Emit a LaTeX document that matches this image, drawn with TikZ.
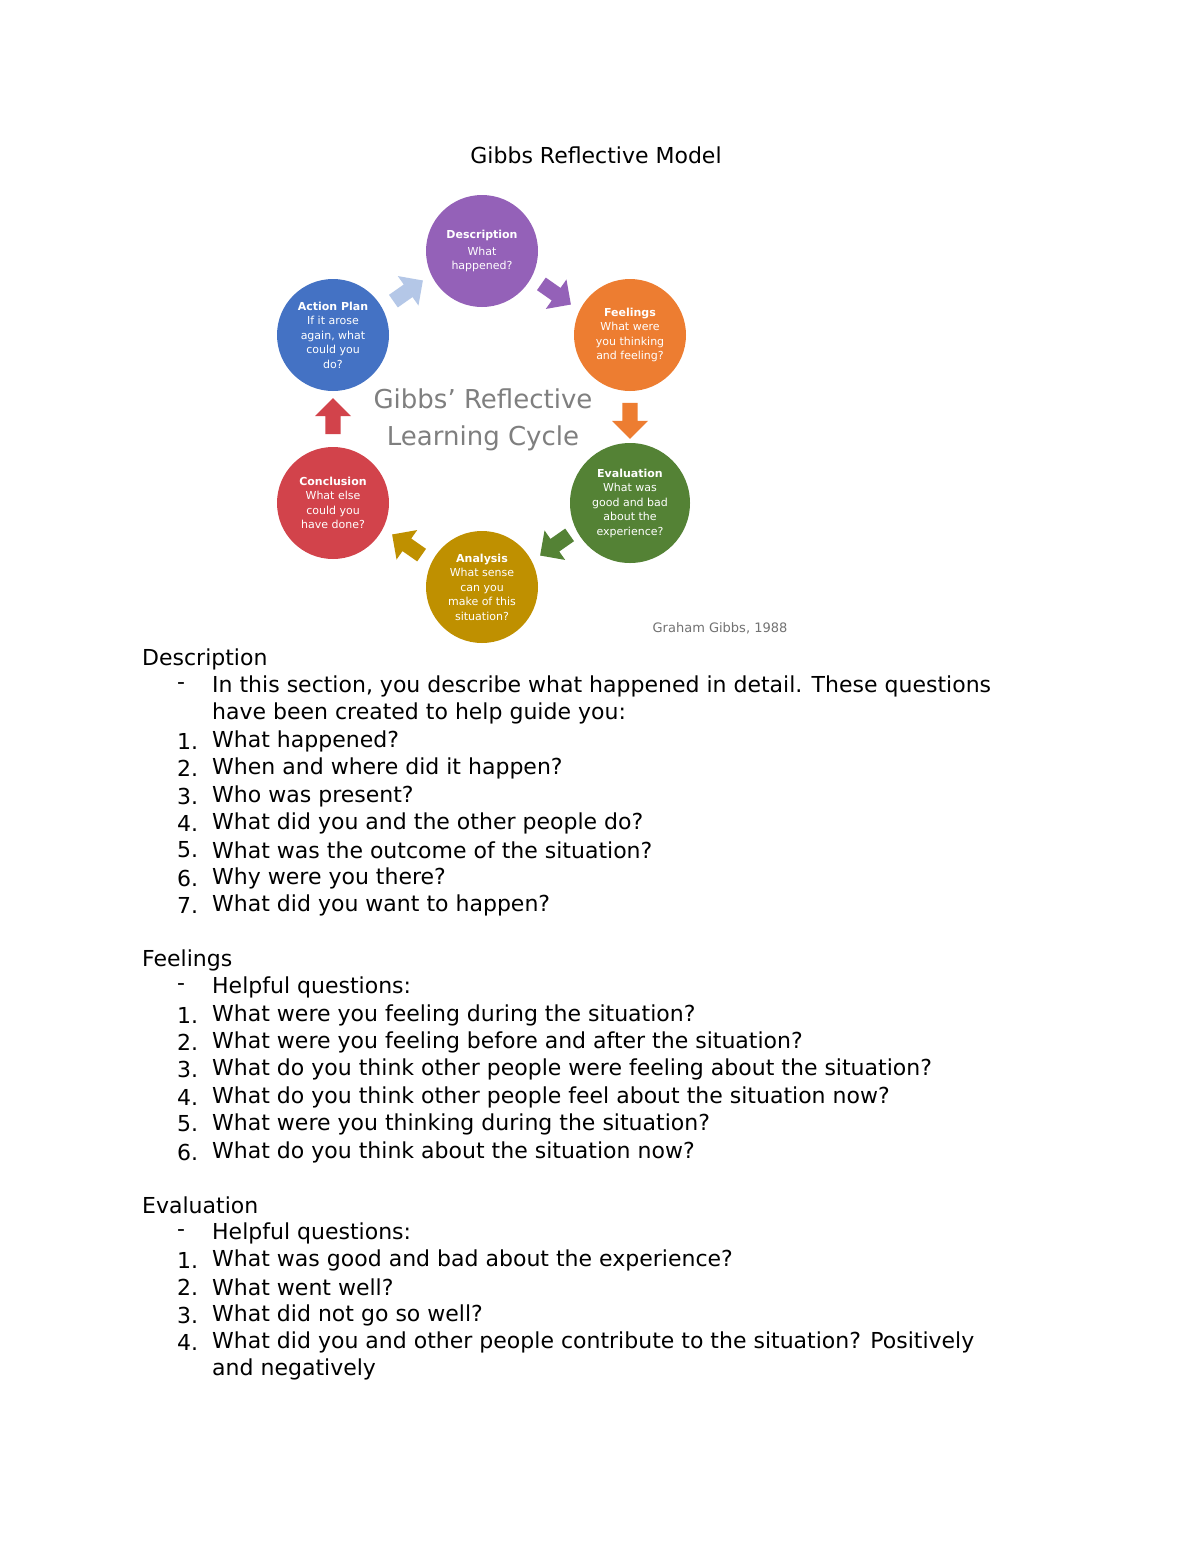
\documentclass[tikz,border=0pt]{standalone}
\usepackage{fontspec}
\setmainfont{DejaVu Sans}
\usetikzlibrary{shapes.arrows}
\definecolor{cpur}{HTML}{9461B8}
\definecolor{cora}{HTML}{ED7D31}
\definecolor{cgrn}{HTML}{548235}
\definecolor{cgld}{HTML}{BF9000}
\definecolor{cred}{HTML}{D2434B}
\definecolor{cblu}{HTML}{4472C4}
\definecolor{clbl}{HTML}{B4C7E7}
\definecolor{cgry}{HTML}{7F7F7F}
\begin{document}
\begin{tikzpicture}[x=1pt,y=-1pt,
 circ/.style={circle,minimum size=112pt,inner sep=0pt,text=white,align=center,font=\fontsize{11}{14.5}\selectfont},
 barr/.style={single arrow,minimum height=36pt,minimum width=36pt,single arrow head extend=7pt,inner sep=5pt},
 body/.style={anchor=west,inner sep=0pt,font=\fontsize{22}{27}\selectfont},
 num/.style={anchor=west,inner sep=0pt,font=\fontsize{22}{27}\selectfont}]
\useasboundingbox[fill=white] (0,0) rectangle (1200,1553);
\node[inner sep=0pt,font=\fontsize{22}{26}\selectfont] (title) at (596,155) {Gibbs Reflective Model};
\node[circ,fill=cpur] (desc) at (482,251) {\textbf{Description}\\[2pt]What\\happened?};
\node[circ,fill=cora] (feel) at (630,335) {\textbf{Feelings}\\What were\\you thinking\\and feeling?};
\node[circ,fill=cgrn,minimum size=120pt] (eval) at (630,503) {\textbf{Evaluation}\\What was\\good and bad\\about the\\experience?};
\node[circ,fill=cgld] (anal) at (482,587) {\textbf{Analysis}\\What sense\\can you\\make of this\\situation?};
\node[circ,fill=cred] (conc) at (333,503) {\textbf{Conclusion}\\What else\\could you\\have done?};
\node[circ,fill=cblu] (act) at (333,335) {\textbf{Action Plan}\\If it arose\\again, what\\could you\\do?};
\node[barr,fill=cpur,rotate=-35] (a1) at (553,292) {};
\node[barr,fill=cora,rotate=-90] (a2) at (630,417) {};
\node[barr,fill=cgrn,rotate=-145] (a3) at (558,543) {};
\node[barr,fill=cgld,rotate=145] (a4) at (410,547) {};
\node[barr,fill=cred,rotate=90] (a5) at (333,420) {};
\node[barr,fill=clbl,rotate=35] (a6) at (405,293) {};
\node[text=cgry,align=center,font=\fontsize{26}{37}\selectfont] (cent) at (483,420) {Gibbs’ Reflective\\Learning Cycle};
\node[text=cgry!90!black,font=\fontsize{13}{15}\selectfont] (auth) at (720,628) {Graham Gibbs, 1988};
% body text
\node[body] (h1) at (142,659) {Description};
\node[num] (d0) at (177,686) {-};
\node[body] (t0) at (212,686) {In this section, you describe what happened in detail. These questions};
\node[body] (t0b) at (212,713) {have been created to help guide you:};
\foreach \n/\y/\t in {1/741/What happened?,2/768/When and where did it happen?,3/796/Who was present?,4/823/What did you and the other people do?,5/850/What was the outcome of the situation?,6/878/Why were you there?,7/905/What did you want to happen?}{
 \node[num] (dn\n) at (177,\y) {\n.};
 \node[body] (dt\n) at (212,\y) {\t};}
\node[body] (h2) at (142,960) {Feelings};
\node[num] (f0) at (177,987) {-};
\node[body] (ft0) at (212,987) {Helpful questions:};
\foreach \n/\y/\t in {1/1015/What were you feeling during the situation?,2/1042/What were you feeling before and after the situation?,3/1069/What do you think other people were feeling about the situation?,4/1097/What do you think other people feel about the situation now?,5/1124/What were you thinking during the situation?,6/1152/What do you think about the situation now?}{
 \node[num] (fn\n) at (177,\y) {\n.};
 \node[body] (ft\n) at (212,\y) {\t};}
\node[body] (h3) at (142,1205) {Evaluation};
\node[num] (e0) at (177,1233) {-};
\node[body] (et0) at (212,1233) {Helpful questions:};
\foreach \n/\y/\t in {1/1260/What was good and bad about the experience?,2/1287/What went well?,3/1315/What did not go so well?,4/1342/What did you and other people contribute to the situation? Positively}{
 \node[num] (en\n) at (177,\y) {\n.};
 \node[body] (et\n) at (212,\y) {\t};}
\node[body] (et4b) at (212,1369) {and negatively};
\end{tikzpicture}
\end{document}
